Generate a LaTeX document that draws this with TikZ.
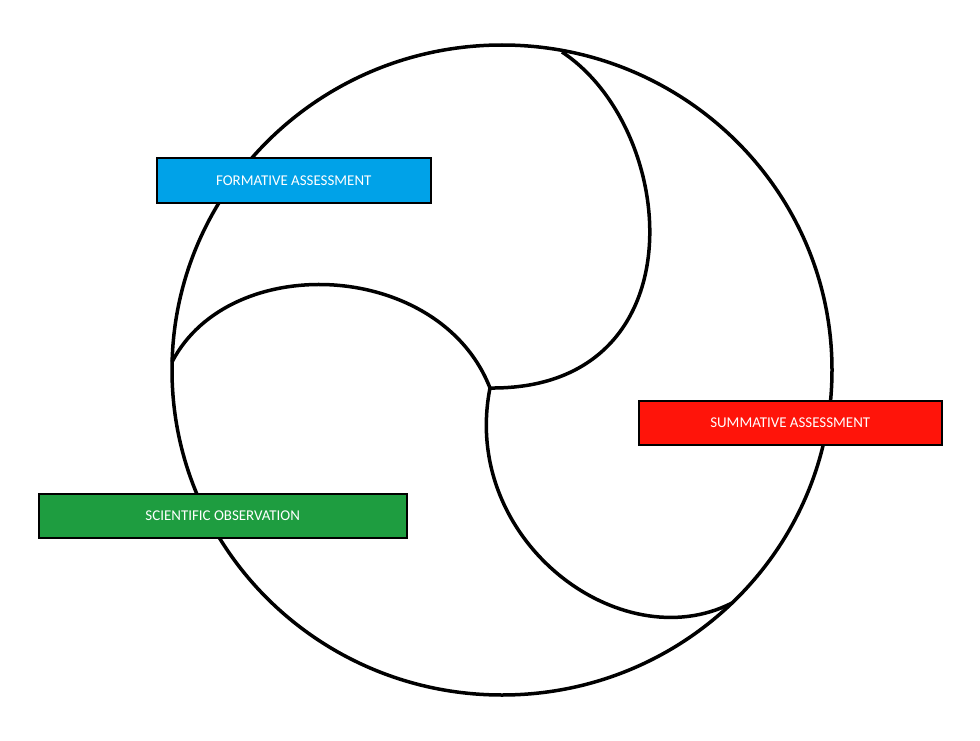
\documentclass[tikz,border=0pt]{standalone}
\usepackage{fontspec}
\setmainfont{Carlito}
\definecolor{fcyan}{RGB}{0,162,232}
\definecolor{sred}{RGB}{255,20,10}
\definecolor{ogreen}{RGB}{30,157,64}
\begin{document}
\begin{tikzpicture}[x=1bp,y=-1bp,line width=3.5bp,
  lbl/.style={draw=black,line width=1.5bp,text=white,font=\fontsize{15}{17}\selectfont,anchor=north west,inner sep=0pt,align=center}]
\useasboundingbox (0,0) rectangle (980,741);
\draw (502,370) ellipse [x radius=330, y radius=325];
\coordinate (c) at (490,388);
\coordinate (l) at (172,362);
\coordinate (t) at (562,52);
\coordinate (b) at (732,603);
\draw (c) .. controls (440,260) and (230,250) .. (l);
\draw (c) .. controls (700,390) and (680,130) .. (t);
\draw (c) .. controls (460,540) and (620,660) .. (b);
\node[lbl,fill=fcyan,minimum width=274bp,minimum height=45bp] (fa) at (156,157) {FORMATIVE ASSESSMENT};
\node[lbl,fill=sred,minimum width=303bp,minimum height=44bp] (sa) at (638,400) {SUMMATIVE ASSESSMENT};
\node[lbl,fill=ogreen,minimum width=368bp,minimum height=44bp] (so) at (38,493) {SCIENTIFIC OBSERVATION};
\end{tikzpicture}
\end{document}
